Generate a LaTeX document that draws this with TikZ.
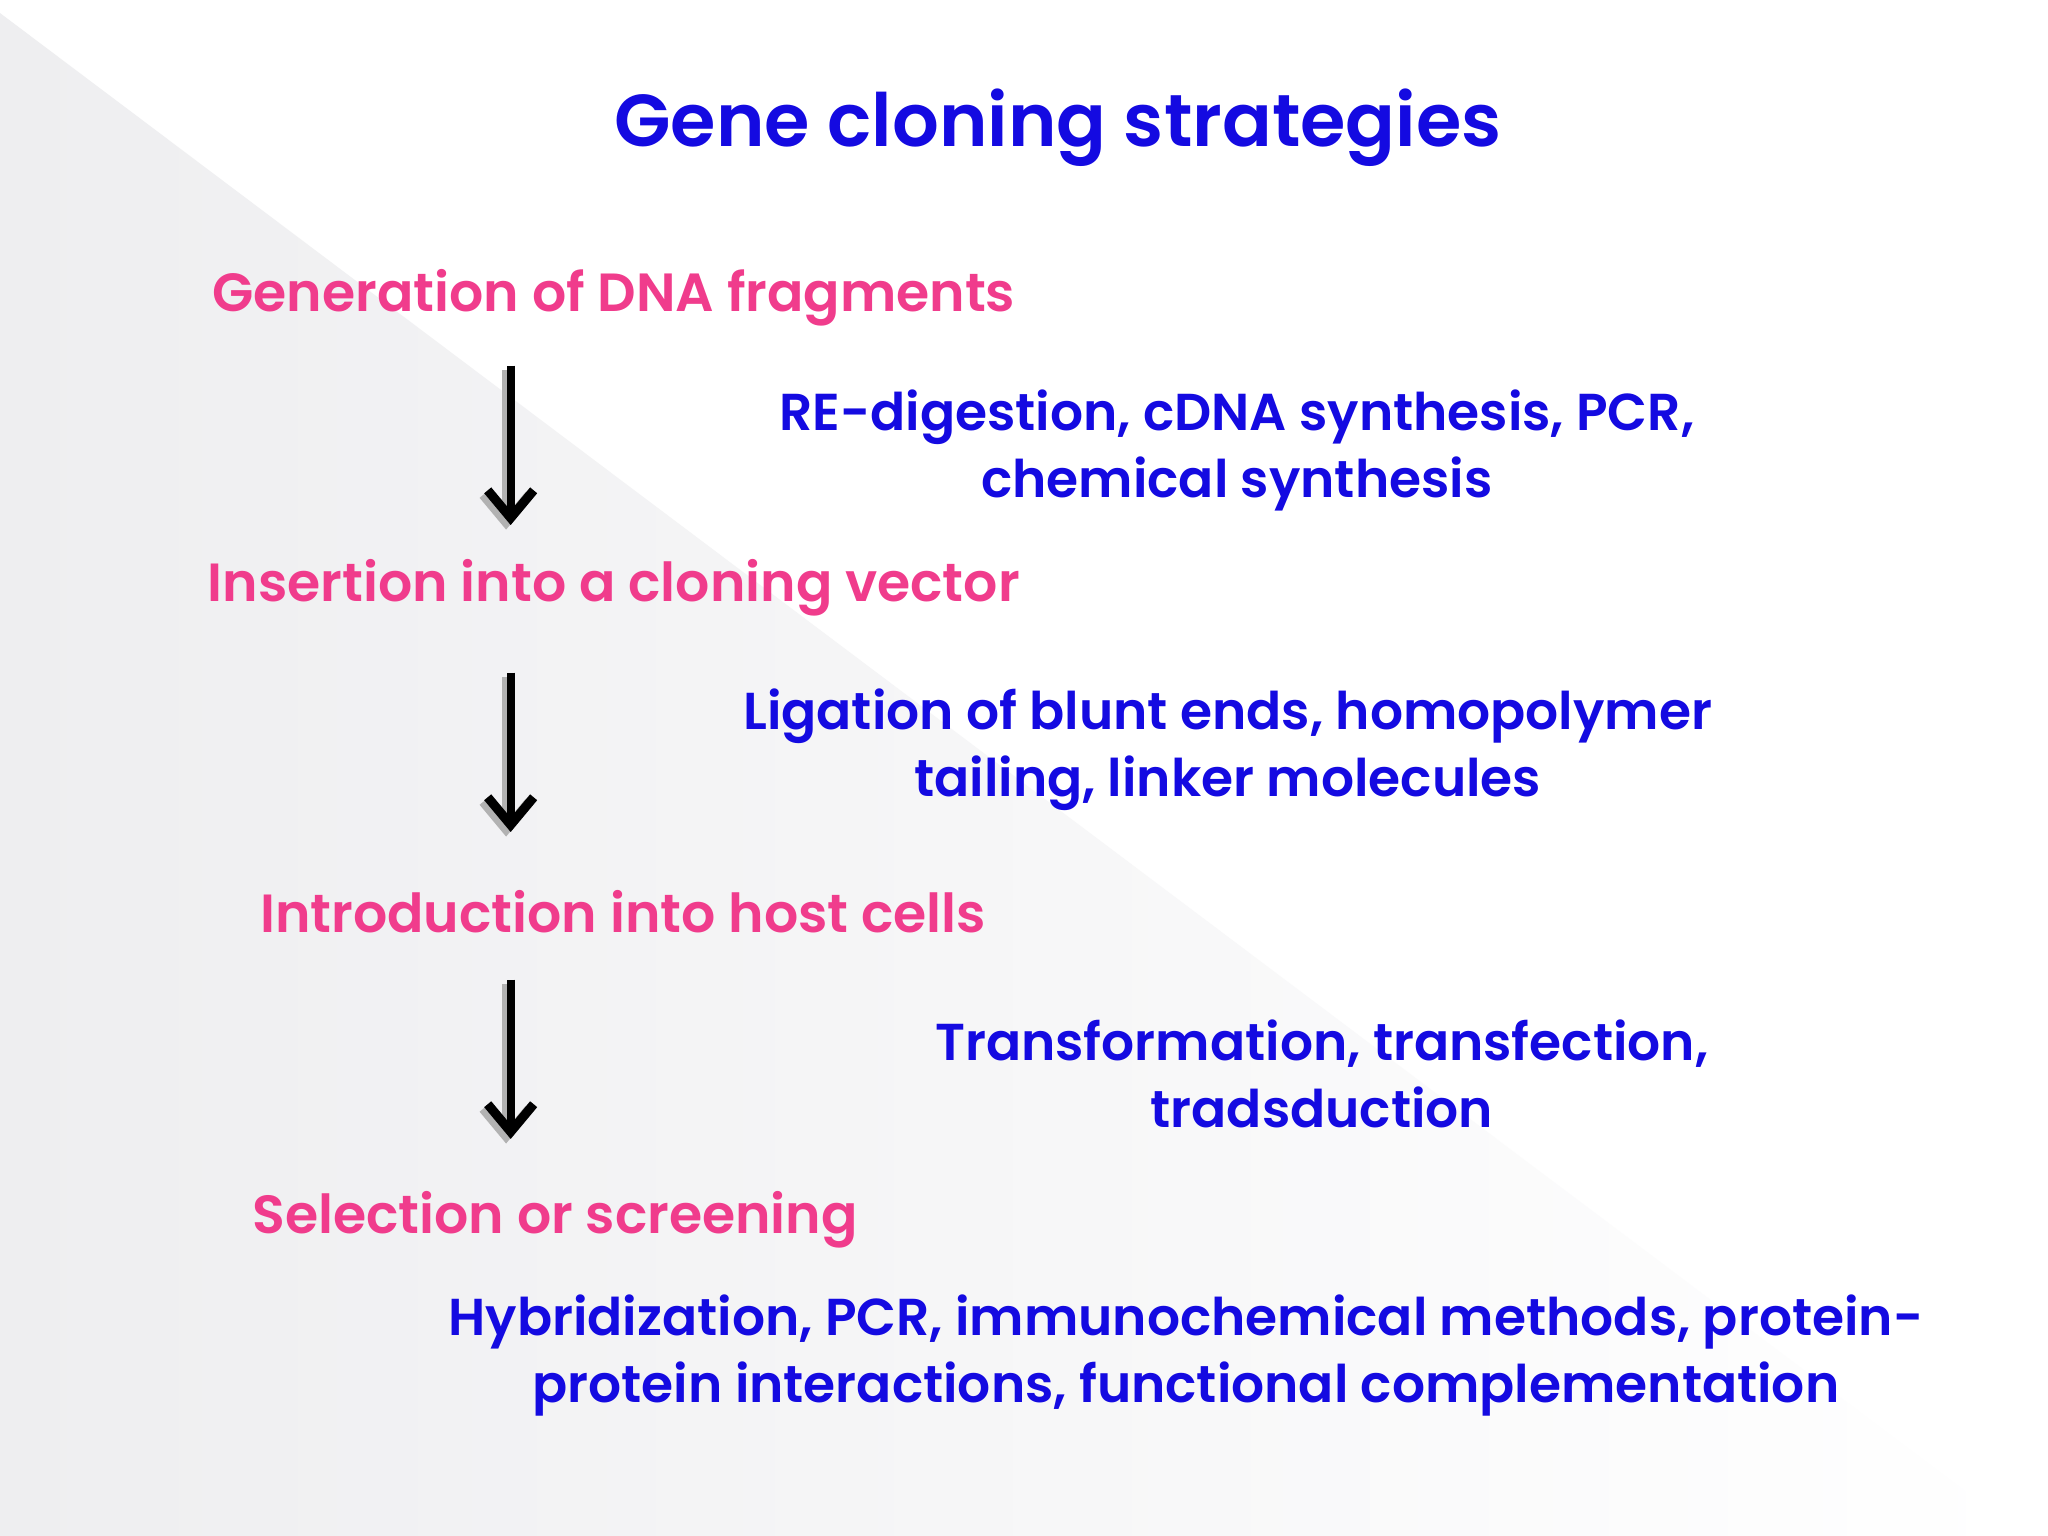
\documentclass[tikz,border=0pt]{standalone}
\usepackage{fontspec}
\setmainfont{Poppins}[BoldFont={* SemiBold}]
\usetikzlibrary{arrows.meta}
\definecolor{stepc}{RGB}{240,60,140}
\definecolor{notec}{RGB}{20,10,225}
\definecolor{shade}{RGB}{238,238,240}
\tikzset{
  stage/.style={text=stepc,font=\bfseries\fontsize{11.7}{15}\selectfont,inner sep=0pt},
  note/.style={text=notec,font=\bfseries\fontsize{11.3}{14.6}\selectfont,align=center,inner sep=0pt},
  flow/.style={line width=1.8pt,-{Straight Barb[length=6pt,width=10pt,line width=2pt]}},
}
\begin{document}
\begin{tikzpicture}[x=0.01cm,y=-0.01cm]
\useasboundingbox (0,0) rectangle (1568,1176);
\fill[white] (0,0) rectangle (1568,1176);
\shade[left color=shade,right color=white] (0,10) -- (1550,1176) -- (0,1176) -- cycle;
\node[text=notec,font=\bfseries\fontsize{16}{20}\selectfont,inner sep=0pt] (title) at (810,98) {Gene cloning strategies};

\node[stage] (s1) at (470,228) {Generation of DNA fragments};
\node[stage] (s2) at (470,450) {Insertion into a cloning vector};
\node[stage] (s3) at (477,698) {Introduction into host cells};
\node[stage] (s4) at (425,934) {Selection or screening};

\node[note] (n1) at (947,345) {RE-digestion, cDNA synthesis, PCR,\\chemical synthesis};
\node[note] (n2) at (940,574) {Ligation of blunt ends, homopolymer\\tailing, linker molecules};
\node[note] (n3) at (1012,822) {Transformation, transfection,\\tradsduction};
\node[note] (n4) at (908,1038) {Hybridization, PCR, immunochemical methods, protein-\\protein interactions, functional complementation};

\coordinate (a1) at (391,280); \coordinate (b1) at (391,402);
\coordinate (a2) at (391,515); \coordinate (b2) at (391,637);
\coordinate (a3) at (391,750); \coordinate (b3) at (391,872);
\foreach \i in {1,2,3} {
  \draw[flow,gray!60,transform canvas={xshift=-1pt,yshift=-1pt}] (a\i) -- (b\i);
  \draw[flow] (a\i) -- (b\i);
}
\end{tikzpicture}
\end{document}
